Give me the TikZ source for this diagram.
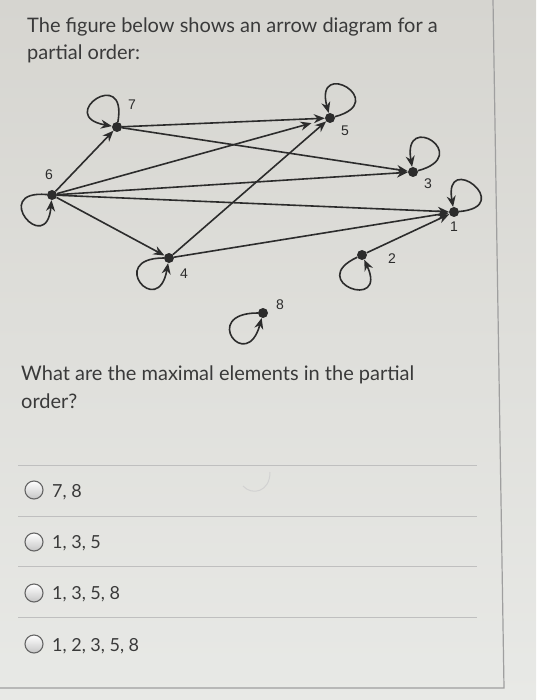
\documentclass[tikz,border=0pt]{standalone}
\usepackage{fontspec}
\setmainfont{Lato}
\newfontfamily\labfont{Liberation Sans}
\usetikzlibrary{arrows.meta}
\definecolor{ink}{HTML}{2C2C2C}
\definecolor{txt}{HTML}{3A3A3A}
\definecolor{bgtop}{RGB}{214,213,208}
\definecolor{bgbot}{RGB}{232,233,230}
\begin{document}
\begin{tikzpicture}[x=1pt,y=1pt,
  dot/.style={circle,fill=ink,inner sep=0pt,minimum size=10pt},
  lab/.style={font=\labfont\fontsize{14}{14}\selectfont,text=ink,inner sep=0pt},
  arr/.style={draw=ink,line width=1.6pt,-{Stealth[length=11pt,width=9pt]}},
  lp/.style={arr,min distance=58pt},
  q/.style={anchor=base west,inner sep=0pt,text=txt,font=\fontsize{20}{24}\selectfont},
  opt/.style={anchor=base west,inner sep=0pt,text=txt,font=\fontsize{18}{22}\selectfont},
  radio/.style={circle,draw=gray!80!black,line width=1.1pt,top color=white,bottom color=gray!45,minimum size=18pt,inner sep=0pt},
  sep/.style={draw=gray!50,line width=0.9pt}]
\useasboundingbox (0,0) rectangle (536,-700);
\shade[top color=bgtop,bottom color=bgbot] (0,0) rectangle (536,-700);
% panel border
\draw[gray!75,line width=1.2pt] (493,0) -- (504,-688) -- (0,-688);

% texts
\node[q] (t1) at (27,-33) {The figure below shows an arrow diagram for a};
\node[q] (t2) at (27,-60) {partial order:};
\node[q] (q1) at (21,-380) {What are the maximal elements in the partial};
\node[q] (q2) at (21,-408) {order?};

% vertices
\node[dot] (n7) at (117,-127) {};
\node[dot] (n6) at (52,-195) {};
\node[dot] (n4) at (169,-258) {};
\node[dot] (n5) at (330,-118) {};
\node[dot] (n3) at (413,-172) {};
\node[dot] (n1) at (454,-212) {};
\node[dot] (n2) at (362,-255) {};
\node[dot] (n8) at (263,-313) {};

% labels
\node[lab] (l7) at (132,-105) {7};
\node[lab] (l6) at (49,-175) {6};
\node[lab] (l4) at (184,-274) {4};
\node[lab] (l5) at (345,-131) {5};
\node[lab] (l3) at (428,-184) {3};
\node[lab] (l1) at (454,-227) {1};
\node[lab] (l2) at (392,-259) {2};
\node[lab] (l8) at (280,-305) {8};

% edges
\draw[arr] (n7) -- (n5);
\draw[arr] (n7) -- (n3);
\draw[arr] (n6) -- (n7);
\draw[arr,shorten >=14pt] (n6) -- (n5);
\draw[arr] (n6) -- (n3);
\draw[arr] (n6) -- (n1);
\draw[arr] (n6) -- (n4);
\draw[arr] (n4) -- (n5);
\draw[arr] (n4) -- (n1);
\draw[arr] (n2) -- (n1);

% loops
\draw[lp] (n7) to[out=80,in=170] (n7);
\draw[lp] (n6) to[out=175,in=-95] (n6);
\draw[lp] (n4) to[out=180,in=-100] (n4);
\draw[lp] (n8) to[out=180,in=-105] (n8);
\draw[lp] (n5) to[out=15,in=105] (n5);
\draw[lp] (n3) to[out=15,in=100] (n3);
\draw[lp] (n1) to[out=5,in=100] (n1);
\draw[lp] (n2) to[out=205,in=-65] (n2);

% answers
\draw[sep] (18,-465) -- (477,-465);
\draw[sep] (18,-516) -- (477,-516);
\draw[sep] (18,-566) -- (477,-566);
\draw[sep] (18,-617) -- (477,-617);
\draw[gray!35,line width=1pt] (243,-486) .. controls (252,-496) and (270,-492) .. (270,-472);

\node[radio] (r1) at (34,-490) {};
\node[radio] (r2) at (34,-542) {};
\node[radio] (r3) at (34,-593) {};
\node[radio] (r4) at (34,-644) {};
\node[opt] (o1) at (52,-497) {7, 8};
\node[opt] (o2) at (52,-548) {1, 3, 5};
\node[opt] (o3) at (52,-599) {1, 3, 5, 8};
\node[opt] (o4) at (52,-651) {1, 2, 3, 5, 8};
\end{tikzpicture}
\end{document}
